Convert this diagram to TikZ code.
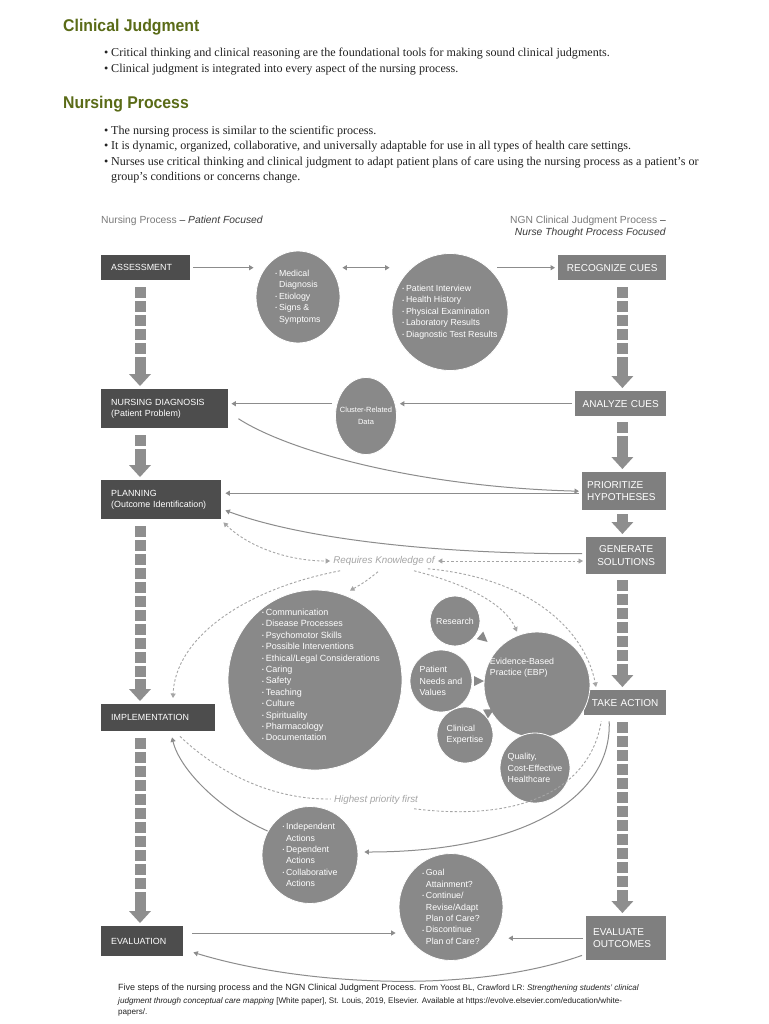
\documentclass[tikz,border=0pt]{standalone}
\usepackage{fontspec}
\setmainfont{Liberation Serif}
\setsansfont{Liberation Sans}
\usetikzlibrary{arrows.meta,calc,shapes.geometric}
\definecolor{hdgreen}{HTML}{5A6B17}
\definecolor{dkbox}{HTML}{4D4D4D}
\definecolor{mdbox}{HTML}{7F7F7F}
\definecolor{circ}{HTML}{898989}
\definecolor{lncol}{HTML}{8C8C8C}
\definecolor{dashcol}{HTML}{A5A5A5}
\definecolor{sqcol}{HTML}{8E8E8E}
\definecolor{hdrgray}{HTML}{7A7A7A}
\definecolor{hdrdark}{HTML}{3A3A3A}
\definecolor{bodytext}{HTML}{222222}
\newcommand\cbul{\makebox[3.6pt][l]{\raisebox{0.8pt}{\scalebox{0.55}{•}}}}
\newcommand\cind{\hspace*{3.6pt}}
\newcommand\bbul{\makebox[7pt][l]{•}}
\newcommand\thickarr[2]{%
  \draw[sqdash] (#1) -- ($(#2)+(0,-22)$);
  \draw[sqhead] ($(#2)+(0,-22)$) -- (#2);}
\tikzset{
  lbox/.style={fill=dkbox, text=white, font=\sffamily\fontsize{8.9}{11}\selectfont,
    inner xsep=10pt, inner ysep=0pt, anchor=north west, align=left},
  rbox/.style={fill=mdbox, text=white, font=\sffamily\fontsize{10}{12.5}\selectfont,
    inner xsep=4pt, inner ysep=0pt, anchor=north west, align=center},
  cnode/.style={ellipse, fill=circ, draw=white, line width=0.8pt, inner sep=0pt},
  ctext/.style={text=white, font=\sffamily\fontsize{8.8}{11.4}\selectfont, align=left, inner sep=0pt},
  lnk/.style={draw=lncol, line width=1pt, -{Triangle[length=4.5pt,width=5pt]}},
  dlnk/.style={draw=dashcol, line width=0.9pt, dash pattern=on 2.5pt off 2pt},
  dtip/.style={-{Triangle[length=4.5pt,width=5pt]}},
  sqdash/.style={draw=sqcol, line width=11pt, dash pattern=on 10.5pt off 3.5pt},
  sqhead/.style={draw=sqcol, line width=11pt, -{Triangle[length=12pt,width=22pt,line width=0pt]}},
  lbl/.style={text=dashcol, font=\sffamily\itshape\fontsize{9.8}{11}\selectfont, inner sep=1pt},
  hdr/.style={text=hdrgray, font=\sffamily\fontsize{10.3}{12}\selectfont, inner sep=0pt},
  bodytxt/.style={text=bodytext, font=\fontsize{12.1}{16}\selectfont, inner sep=0pt, anchor=base west},
  headtxt/.style={text=hdgreen, font=\sffamily\bfseries\fontsize{17}{19}\selectfont, inner sep=0pt, anchor=base west},
  captxt/.style={text=bodytext, font=\sffamily\fontsize{8.1}{12}\selectfont, inner sep=0pt, anchor=base west},
  trifill/.style={fill=circ}
}
\begin{document}
\begin{tikzpicture}[x=1pt,y=-1pt]
\useasboundingbox[fill=white] (0,0) rectangle (768,1024);

% headings and body
\node[headtxt] (h1) at (63,32) {\scalebox{0.93}[1]{Clinical Judgment}};
\node[bodytxt] (b1) at (104,57) {\bbul Critical thinking and clinical reasoning are the foundational tools for making sound clinical judgments.};
\node[bodytxt] (b2) at (104,73) {\bbul Clinical judgment is integrated into every aspect of the nursing process.};
\node[headtxt] (h2) at (63,109) {\scalebox{0.93}[1]{Nursing Process}};
\node[bodytxt] (b3) at (104,135) {\bbul The nursing process is similar to the scientific process.};
\node[bodytxt] (b4) at (104,150) {\bbul It is dynamic, organized, collaborative, and universally adaptable for use in all types of health care settings.};
\node[bodytxt] (b5) at (104,166) {\bbul Nurses use critical thinking and clinical judgment to adapt patient plans of care using the nursing process as a patient’s or};
\node[bodytxt] (b6) at (111,181) {group’s conditions or concerns change.};

% column headers
\node[hdr, anchor=base west] (hl) at (101,223) {Nursing Process \textcolor{hdrdark}{– \textit{Patient Focused}}};
\node[hdr, anchor=base east] (hr1) at (666,223) {NGN Clinical Judgment Process \textcolor{hdrdark}{–}};
\node[hdr, anchor=base east] (hr2) at (666,236) {\textcolor{hdrdark}{\textit{Nurse Thought Process Focused}}};

% left boxes
\node[lbox, text width=69pt, minimum height=25pt] (ass) at (101,255) {ASSESSMENT};
\node[lbox, text width=107pt, minimum height=39pt] (nd) at (101,389) {NURSING DIAGNOSIS\\(Patient Problem)};
\node[lbox, text width=100pt, minimum height=39pt] (plan) at (101,480) {PLANNING\\(Outcome Identification)};
\node[lbox, text width=94pt, minimum height=27pt] (impl) at (101,704) {IMPLEMENTATION};
\node[lbox, text width=62pt, minimum height=30pt] (eval) at (101,926) {EVALUATION};

% right boxes
\node[rbox, text width=100pt, minimum height=25pt] (rc) at (558,255) {RECOGNIZE CUES};
\node[rbox, text width=83pt, minimum height=25pt] (ac) at (575,391) {ANALYZE CUES};
\node[rbox, text width=74pt, minimum height=38pt, inner xsep=5pt, align=left] (ph) at (582,472) {PRIORITIZE\\HYPOTHESES};
\node[rbox, text width=72pt, minimum height=37pt] (gs) at (586,537) {GENERATE\\SOLUTIONS};
\node[rbox, text width=74pt, minimum height=25pt] (ta) at (584,690) {TAKE ACTION};
\node[rbox, text width=66pt, minimum height=44pt, inner xsep=7pt, align=left] (eo) at (586,916) {EVALUATE\\OUTCOMES};

% circles
\node[cnode, minimum width=84pt, minimum height=92pt] (c1) at (298,297) {};
\node[cnode, minimum width=116pt, minimum height=117pt] (c2) at (450,312) {};
\node[cnode, minimum width=61pt, minimum height=77pt] (c3) at (366,416) {};
\node[cnode, minimum width=174pt, minimum height=180pt] (c4) at (315,680) {};
\node[cnode, minimum size=106pt] (ebp) at (537,685) {};
\node[cnode, minimum size=50pt] (res) at (455,621) {};
\node[cnode, minimum size=62pt] (pnv) at (441,681) {};
\node[cnode, minimum size=56pt] (cex) at (465,735) {};
\node[cnode, minimum size=70pt] (qual) at (535,768) {};
\node[cnode, minimum width=96pt, minimum height=97pt] (ind) at (310,855) {};
\node[cnode, minimum width=104pt, minimum height=107pt] (goal) at (451,907) {};

% circle texts
\node[ctext] (t1) at (c1) {\cbul Medical\\\cind Diagnosis\\\cbul Etiology\\\cbul Signs \&\\\cind Symptoms};
\node[ctext] (t2) at (c2) {\cbul Patient Interview\\\cbul Health History\\\cbul Physical Examination\\\cbul Laboratory Results\\\cbul Diagnostic Test Results};
\node[ctext, align=center, font=\sffamily\fontsize{7.5}{12}\selectfont] (t3) at (c3) {Cluster-Related\\Data};
\node[ctext, font=\sffamily\fontsize{9}{11.4}\selectfont] (t4) at ($(c4)+(6,-5)$) {\cbul Communication\\\cbul Disease Processes\\\cbul Psychomotor Skills\\\cbul Possible Interventions\\\cbul Ethical/Legal Considerations\\\cbul Caring\\\cbul Safety\\\cbul Teaching\\\cbul Culture\\\cbul Spirituality\\\cbul Pharmacology\\\cbul Documentation};
\node[ctext] (t5) at (res) {Research};
\node[ctext] (t6) at ($(ebp)+(-15,-17)$) {Evidence-Based\\Practice (EBP)};
\node[ctext] (t7) at (pnv) {Patient\\Needs and\\Values};
\node[ctext] (t8) at (cex) {Clinical\\Expertise};
\node[ctext] (t9) at (qual) {Quality,\\Cost-Effective\\Healthcare};
\node[ctext] (t10) at (ind) {\cbul Independent\\\cind Actions\\\cbul Dependent\\\cind Actions\\\cbul Collaborative\\\cind Actions};
\node[ctext] (t11) at (goal) {\cbul Goal\\\cind Attainment?\\\cbul Continue/\\\cind Revise/Adapt\\\cind Plan of Care?\\\cbul Discontinue\\\cind Plan of Care?};

% triangles towards EBP
\begin{scope}[shift={(483,638)}, rotate=-41] \fill[trifill] (6,0) -- (-4,5) -- (-4,-5) -- cycle; \end{scope}
\begin{scope}[shift={(478,681)}] \fill[trifill] (6,0) -- (-4,5) -- (-4,-5) -- cycle; \end{scope}
\begin{scope}[shift={(489,712)}, rotate=29] \fill[trifill] (6,0) -- (-4,5) -- (-4,-5) -- cycle; \end{scope}
\begin{scope}[shift={(530,723)}, rotate=90] \fill[trifill] (6,0) -- (-4,6) -- (-4,-6) -- cycle; \end{scope}

% thick dashed arrows, left
\coordinate (la1s) at ($(ass.south west)+(39,7)$);  \coordinate (la1e) at ($(nd.north west)+(39,-3)$);
\coordinate (la2s) at ($(nd.south west)+(39,7)$);   \coordinate (la2e) at ($(plan.north west)+(39,-3)$);
\coordinate (la3s) at ($(plan.south west)+(39,7)$); \coordinate (la3e) at ($(impl.north west)+(39,-3)$);
\coordinate (la4s) at ($(impl.south west)+(39,7)$); \coordinate (la4e) at ($(eval.north west)+(39,-3)$);
\thickarr{la1s}{la1e}
\thickarr{la2s}{la2e}
\thickarr{la3s}{la3e}
\thickarr{la4s}{la4e}
% right
\coordinate (ra1s) at ($(rc.south east)+(-44,7)$); \coordinate (ra1e) at ($(ac.north east)+(-44,-3)$);
\coordinate (ra2s) at ($(ac.south east)+(-44,6)$); \coordinate (ra2e) at ($(ph.north east)+(-44,-3)$);
\coordinate (ra3s) at ($(ph.south east)+(-44,4)$); \coordinate (ra3e) at ($(gs.north east)+(-44,-3)$);
\coordinate (ra4s) at ($(gs.south east)+(-44,6)$); \coordinate (ra4e) at ($(ta.north east)+(-44,-3)$);
\coordinate (ra5s) at ($(ta.south east)+(-44,7)$); \coordinate (ra5e) at ($(eo.north east)+(-44,-3)$);
\thickarr{ra1s}{ra1e}
\thickarr{ra2s}{ra2e}
\draw[sqhead] (ra3s) -- (ra3e);
\thickarr{ra4s}{ra4e}
\thickarr{ra5s}{ra5e}

% thin connectors
\draw[lnk] ($(ass.east)+(3,0)$) -- ($(ass.east -| c1.west)+(-2,0)$);
\draw[lnk, {Triangle[length=4.5pt,width=5pt]}-{Triangle[length=4.5pt,width=5pt]}] ($(ass.east -| c1.east)+(2,0)$) -- ($(ass.east -| c2.west)+(-2,0)$);
\draw[lnk] ($(ass.east -| c2.east)+(-11,0)$) -- ($(rc.west)+(-3,0)$);
\draw[lnk] ($(ac.west)+(-3,0)$) -- ($(ac.west -| c3.east)+(3,0)$);
\draw[lnk] ($(ac.west -| c3.west)+(-3,0)$) -- ($(ac.west -| nd.east)+(3,0)$);
\draw[lnk] ($(nd.east)+(10,10)$) .. controls (290,452) and (420,487) .. ($(ph.west)+(-3,0)$);
\draw[lnk] ($(ph.west)+(-3,2)$) -- ($(ph.west -| plan.east)+(4,2)$);
\draw[lnk] ($(gs.west)+(-4,-2)$) .. controls (430,554) and (300,538) .. ($(plan.south east)+(4,-9)$);

\node[lbl] (rk) at (384,561) {Requires Knowledge of};
\draw[dlnk, {Triangle[length=4.5pt,width=5pt]}-{Triangle[length=4.5pt,width=5pt]}] ($(plan.south east)+(2,3)$) .. controls (250,548) and (290,561) .. ($(rk.west)+(-2,0)$);
\draw[dlnk, {Triangle[length=4.5pt,width=5pt]}-{Triangle[length=4.5pt,width=5pt]}] ($(rk.east)+(2,0)$) -- ($(rk.east -| gs.west)+(-3,0)$);
\draw[dlnk, dtip] ($(rk.south west)+(8,4)$) .. controls (240,590) and (175,640) .. ($(impl.north west)+(72,-6)$);
\draw[dlnk, dtip] ($(rk.south)+(-6,5)$) .. controls (365,582) .. ($(c4.north)+(35,1)$);
\draw[dlnk, dtip] ($(rk.south)+(30,4)$) .. controls (470,585) and (505,605) .. ($(ebp.north)+(-20,0)$);
\draw[dlnk, dtip] ($(rk.south east)+(-8,2)$) .. controls (530,578) and (585,630) .. ($(ta.north west)+(12,-3)$);

\draw[lnk] ($(ta.south)+(-16,6)$) .. controls (612,800) and (520,852) .. ($(ind.east)+(6,-3)$);
\draw[lnk] ($(ind.west)+(6,-24)$) .. controls (220,810) and (180,770) .. ($(impl.south west)+(71,6)$);

\node[lbl] (hp) at (376,800) {Highest priority first};
\draw[dlnk] ($(impl.south west)+(79,5)$) .. controls (215,770) and (270,800) .. ($(hp.west)+(-2,-1)$);
\draw[dlnk] ($(hp.south east)+(-5,3)$) .. controls (520,822) and (590,790) .. ($(ta.south)+(-24,6)$);

\draw[lnk] ($(eval.north east)+(9,7)$) -- ($(eval.north east -| goal.west)+(-3,7)$);
\draw[lnk] ($(eo.west)+(-3,0)$) -- ($(eo.west -| goal.east)+(5,0)$);
\draw[lnk] ($(eo.south west)+(-4,-5)$) .. controls (470,995) and (300,985) .. ($(eval.south east)+(10,-4)$);

% caption
\node[captxt] (cp1) at (118,990) {{\fontsize{9}{12}\selectfont Five steps of the nursing process and the NGN Clinical Judgment Process.} From Yoost BL, Crawford LR: \textit{Strengthening students’ clinical}};
\node[captxt] (cp2) at (118,1003) {\textit{judgment through conceptual care mapping} [White paper], St. Louis, 2019, Elsevier. Available at https://evolve.elsevier.com/education/white-};
\node[captxt] (cp3) at (118,1014) {papers/.};
\end{tikzpicture}
\end{document}
